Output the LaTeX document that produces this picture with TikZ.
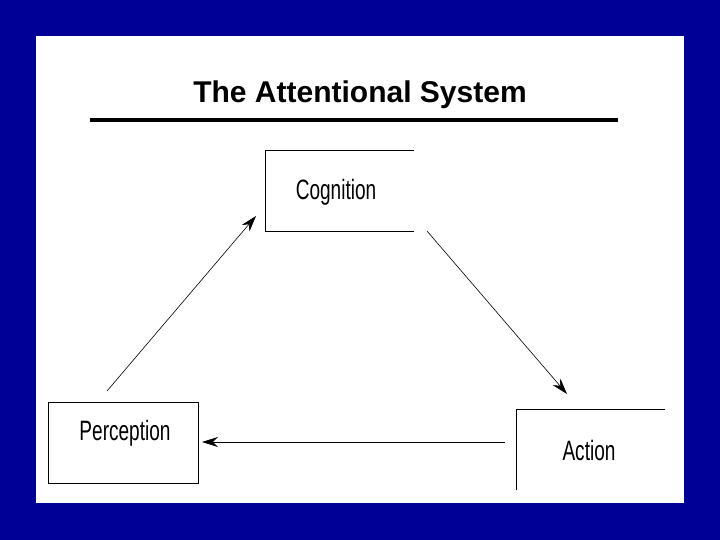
\documentclass[tikz,border=0pt]{standalone}
\usepackage{fontspec}
\setmainfont{Liberation Sans}
\usetikzlibrary{arrows.meta}
\definecolor{frame}{RGB}{0,0,150}
\begin{document}
\begin{tikzpicture}[x=1pt,y=-1pt,
  lbl/.style={font=\fontsize{28}{30}\selectfont, xscale=0.68, inner sep=0},
  conn/.style={line width=0.6pt,-{Stealth[length=16pt,width=10pt]}}]
\useasboundingbox (0,0) rectangle (720,540);
\fill[frame] (0,0) rectangle (720,540);
\fill[white] (36,36) rectangle (684,503);
\node[font=\bfseries\fontsize{30}{34}\selectfont] (title) at (360,95) {The Attentional System};
\draw[line width=3.5pt] (90,120) -- (618,120);
% boxes
\draw[line width=0.7pt] (414,150) -- (265,150) -- (265,231) -- (414,231);
\node[lbl] (cog) at (336,192) {Cognition};
\draw[line width=0.7pt] (48,402) rectangle (198,483);
\node[lbl] (per) at (125,433) {Perception};
\draw[line width=0.7pt] (665,409) -- (516,409) -- (516,490);
\node[lbl] (act) at (589,450) {Action};
\coordinate (p1) at (107,391); \coordinate (c1) at (256,216);
\coordinate (c2) at (427,231); \coordinate (a1) at (567,394);
\coordinate (a2) at (505,442); \coordinate (p2) at (202,442);
\draw[conn] (p1) -- (c1);
\draw[conn] (c2) -- (a1);
\draw[conn] (a2) -- (p2);
\end{tikzpicture}
\end{document}
